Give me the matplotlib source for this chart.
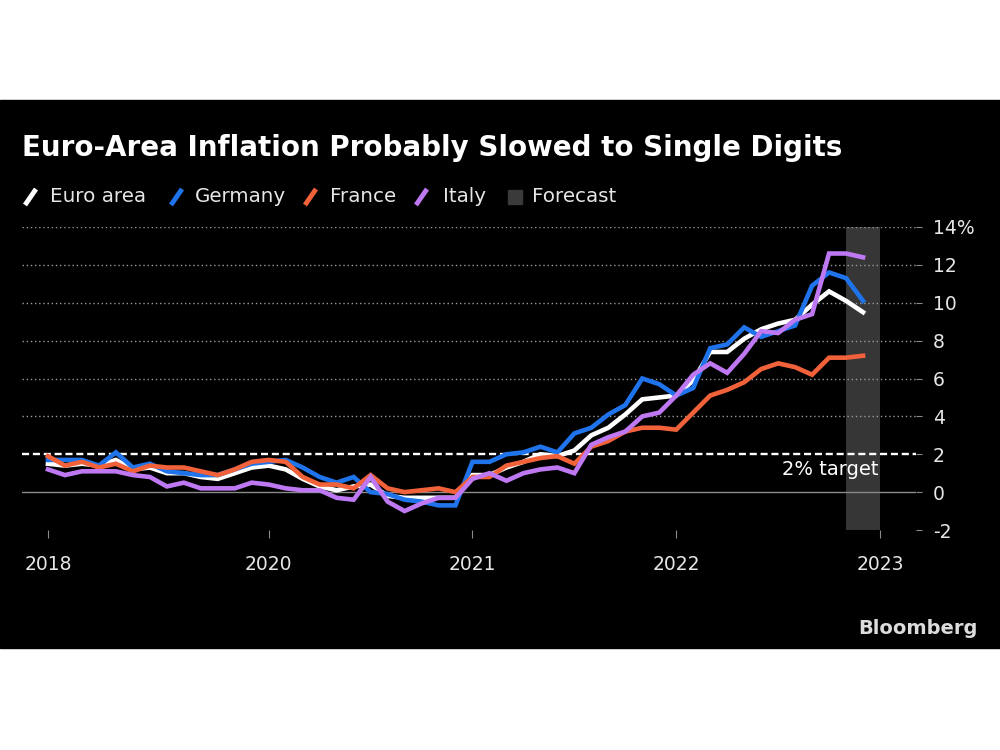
import matplotlib.pyplot as plt
from matplotlib.lines import Line2D
from matplotlib.patches import Rectangle

# Monthly HICP, y/y %, Dec 2018 .. Dec 2022 (last month is forecast)
euro_area = [1.5,
             1.4, 1.5, 1.4, 1.7, 1.2, 1.3, 1.0, 1.0, 0.8, 0.7, 1.0, 1.3,
             1.4, 1.2, 0.7, 0.3, 0.1, 0.3, 0.4, -0.2, -0.3, -0.3, -0.3, -0.3,
             0.9, 0.9, 1.3, 1.6, 2.0, 1.9, 2.2, 3.0, 3.4, 4.1, 4.9, 5.0,
             5.1, 5.9, 7.4, 7.4, 8.1, 8.6, 8.9, 9.1, 9.9, 10.6, 10.1, 9.5]
germany = [1.7,
           1.7, 1.7, 1.4, 2.1, 1.3, 1.5, 1.1, 1.0, 0.9, 0.9, 1.2, 1.5,
           1.6, 1.7, 1.3, 0.8, 0.5, 0.8, 0.0, -0.1, -0.4, -0.5, -0.7, -0.7,
           1.6, 1.6, 2.0, 2.1, 2.4, 2.1, 3.1, 3.4, 4.1, 4.6, 6.0, 5.7,
           5.1, 5.5, 7.6, 7.8, 8.7, 8.2, 8.5, 8.8, 10.9, 11.6, 11.3, 10.1]
france = [1.9,
          1.4, 1.6, 1.3, 1.5, 1.1, 1.4, 1.3, 1.3, 1.1, 0.9, 1.2, 1.6,
          1.7, 1.6, 0.8, 0.4, 0.4, 0.2, 0.9, 0.2, 0.0, 0.1, 0.2, 0.0,
          0.8, 0.8, 1.4, 1.6, 1.8, 1.9, 1.5, 2.4, 2.7, 3.2, 3.4, 3.4,
          3.3, 4.2, 5.1, 5.4, 5.8, 6.5, 6.8, 6.6, 6.2, 7.1, 7.1, 7.2]
italy = [1.2,
         0.9, 1.1, 1.1, 1.1, 0.9, 0.8, 0.3, 0.5, 0.2, 0.2, 0.2, 0.5,
         0.4, 0.2, 0.1, 0.1, -0.3, -0.4, 0.8, -0.5, -1.0, -0.6, -0.3, -0.3,
         0.7, 1.0, 0.6, 1.0, 1.2, 1.3, 1.0, 2.5, 2.9, 3.2, 4.0, 4.2,
         5.1, 6.2, 6.8, 6.3, 7.3, 8.5, 8.4, 9.1, 9.4, 12.6, 12.6, 12.4]

series_names = ["Euro area", "Germany", "France", "Italy"]
series_colors = ["#ffffff", "#1f74ec", "#f2623a", "#bd78f2"]

# x tick positions are month indices (0 = Dec 2018)
year_ticks = [0, 13, 25, 37, 49]
year_labels = ["2018", "2020", "2021", "2022", "2023"]
y_ticks = [-2, 0, 2, 4, 6, 8, 10, 12, 14]
y_labels = ["-2", "0", "2", "4", "6", "8", "10", "12", "14%"]
forecast_span = (47, 49)
target = 2

W, H = 1000, 750
fig = plt.figure(figsize=(10, 7.5), dpi=100, facecolor="white")

# black card
fig.add_artist(Rectangle((0, (H - 648) / H), 1, 548 / H,
                         transform=fig.transFigure, color="black", zorder=0))

ax = fig.add_axes([22 / W, (H - 530) / H, 894 / W, 303 / H])
ax.set_facecolor("black")
ax.patch.set_alpha(0)

months = list(range(len(euro_area)))
ax.axvspan(*forecast_span, color="#363636", zorder=1, lw=0)

for v in y_ticks:
    if v == 0:
        ax.axhline(v, color="#8a8a8a", lw=1.0, zorder=2)
    elif v == target:
        ax.axhline(v, color="white", lw=1.7, ls=(0, (3, 1.6)), zorder=2)
    elif v > 0:
        ax.axhline(v, color="#9a9a9a", lw=1.0, ls=(0, (1, 2)), zorder=2)

for vals, c in zip([euro_area, germany, france, italy], series_colors):
    ax.plot(months, vals, color=c, lw=3.3, zorder=3, solid_joinstyle="miter")

ax.text(48.9, 1.2, "2% target", color="white", fontsize=14,
        ha="right", va="center", zorder=4)

ax.set_xlim(-1.53, 51.12)
ax.set_ylim(-2, 14)
ax.set_xticks(year_ticks)
ax.set_xticklabels(year_labels)
ax.set_yticks(y_ticks)
ax.set_yticklabels(y_labels)
ax.yaxis.tick_right()
ax.tick_params(axis="y", colors="#8a8a8a", labelcolor="#e6e6e6",
               labelsize=13.5, length=4, pad=8, direction="out")
ax.tick_params(axis="x", colors="#8a8a8a", labelcolor="#e6e6e6",
               labelsize=13.5, length=6, pad=12)
for s in ax.spines.values():
    s.set_visible(False)

# title
fig.text(22 / W, (H - 148) / H, "Euro-Area Inflation Probably Slowed to Single Digits",
         color="white", fontsize=20, fontweight="bold", va="center", ha="left")

# legend
legend_x = [22, 168, 302, 413]
text_x = [50, 195, 330, 443]
ly = H - 197
for x0, tx, name, c in zip(legend_x, text_x, series_names, series_colors):
    fig.add_artist(Line2D([(x0 + 3) / W, (x0 + 14) / W],
                          [(ly - 8) / H, (ly + 8) / H],
                          transform=fig.transFigure, color=c, lw=3.5,
                          solid_capstyle="butt"))
    fig.text(tx / W, ly / H, name, color="#e6e6e6", fontsize=14.3,
             va="center", ha="left")
fig.add_artist(Rectangle((508 / W, (ly - 7) / H), 14 / W, 14 / H,
                         transform=fig.transFigure, color="#3a3a3a"))
fig.text(532 / W, ly / H, "Forecast", color="#e6e6e6", fontsize=14.3,
         va="center", ha="left")

fig.text(978 / W, (H - 628) / H, "Bloomberg", color="#dcdcdc", fontsize=14,
         fontweight="bold", ha="right", va="center")

fig.savefig("out.png", dpi=100, facecolor="white")
